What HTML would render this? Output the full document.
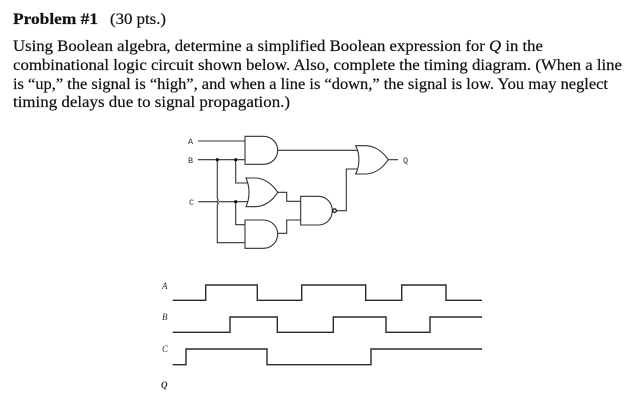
<!DOCTYPE html>
<html>
<head>
<meta charset="utf-8">
<style>
html,body{margin:0;padding:0;background:#fff;width:636px;height:409px;overflow:hidden}
svg{display:block}
.t{font-family:"Liberation Serif",serif;font-size:16px;fill:#111;stroke:#111;stroke-width:.2}
.c{fill:none;stroke:#333;stroke-width:1.1}
.w{fill:none;stroke:#2a2a2a;stroke-width:1.4}
.l{font-family:"Liberation Mono",monospace;font-size:8.5px;fill:#333}
.i{font-family:"Liberation Serif",serif;font-style:italic;font-size:9px;fill:#333}
</style>
</head>
<body>
<svg width="636" height="409" viewBox="0 0 636 409" xmlns="http://www.w3.org/2000/svg">
<defs><filter id="b" x="-5%" y="-5%" width="110%" height="110%"><feGaussianBlur stdDeviation="0.3"/></filter></defs>
<text class="t" x="13" y="24" font-weight="bold" textLength="85" lengthAdjust="spacingAndGlyphs">Problem #1</text>
<text class="t" x="110" y="24" textLength="56" lengthAdjust="spacingAndGlyphs">(30 pts.)</text>
<text class="t" x="13" y="51" textLength="530" lengthAdjust="spacingAndGlyphs">Using Boolean algebra, determine a simplified Boolean expression for <tspan font-style="italic">Q</tspan> in the</text>
<text class="t" x="13" y="70" textLength="609" lengthAdjust="spacingAndGlyphs">combinational logic circuit shown below. Also, complete the timing diagram. (When a line</text>
<text class="t" x="13" y="89" textLength="595" lengthAdjust="spacingAndGlyphs">is “up,” the signal is “high”, and when a line is “down,” the signal is low. You may neglect</text>
<text class="t" x="13" y="107" textLength="277" lengthAdjust="spacingAndGlyphs">timing delays due to signal propagation.)</text>

<g filter="url(#b)">
<!-- circuit -->
<text class="l" x="188" y="144">A</text>
<text class="l" x="188" y="163">B</text>
<text class="l" x="189" y="205">C</text>
<text class="l" x="403" y="163">Q</text>
<path class="c" d="M198 141H245M198 159.7H245M277.7 150.3H358"/>
<path class="c" d="M245 136.3H263C272 136.3 277.7 143 277.7 150.3C277.7 158 272 164.3 263 164.3H245Z"/>
<path class="c" d="M217.3 159.7V199M217.3 204.5V242.7H245"/>
<path class="c" d="M198.3 201.7H215.5C218.5 201.7 219 199.5 217.3 199M217.3 204.5C219 204 218.5 201.7 215.5 201.7M219 201.7H248"/>
<path class="c" d="M235.7 159.7V183H248"/>
<path class="c" d="M235.7 201.7V224.7H245"/>
<path class="c" d="M246 178H255C265 178 273 185 277.7 192.3C273 200 265 206.7 255 206.7H246C250 198 250 187 246 178Z"/>
<path class="c" d="M245 220H263C272 220 277.7 227 277.7 234C277.7 241.5 272 248.3 263 248.3H245Z"/>
<path class="c" d="M277.7 192.3H286.7V201.3H300.7M277.7 233.3H286.7V220H300.7"/>
<path class="c" d="M300.7 196.3H318C327 196.3 332.3 203.5 332.3 210.7C332.3 218 327 225 318 225H300.7Z"/>
<circle cx="334.6" cy="210.7" r="1.8" fill="#fff" stroke="#111" stroke-width="1.2"/>
<path class="c" d="M336.6 210.7H346.3V169H358"/>
<path class="c" d="M355.7 145.7H365C375 145.7 383 152 388.3 159.7C383 167.5 375 174 365 174H355.7C360 165 360 154 355.7 145.7ZM388.3 159.7H398"/>
<circle cx="217.3" cy="159.7" r="1.6" fill="#111"/>
<circle cx="235.7" cy="159.7" r="1.6" fill="#111"/>
<circle cx="235.7" cy="201.7" r="1.6" fill="#111"/>

<!-- timing -->
<text class="i" x="162" y="289">A</text>
<text class="i" x="162" y="320">B</text>
<text class="i" x="162" y="352">C</text>
<text class="i" x="161" y="388" font-size="10" font-weight="bold">Q</text>
<path class="w" d="M172.7 300.3H205.7V285H257.3V300.3H301.7V285H365.7V300.3H401.7V285H446V300.3H482"/>
<path class="w" d="M172.7 332.3H230V317H277.3V332.3H333.3V317H386V332.3H430V317H482"/>
<path class="w" d="M172.7 364.7H186V349H267V364.7H371V349H482"/>
</g>
</svg>
</body>
</html>
